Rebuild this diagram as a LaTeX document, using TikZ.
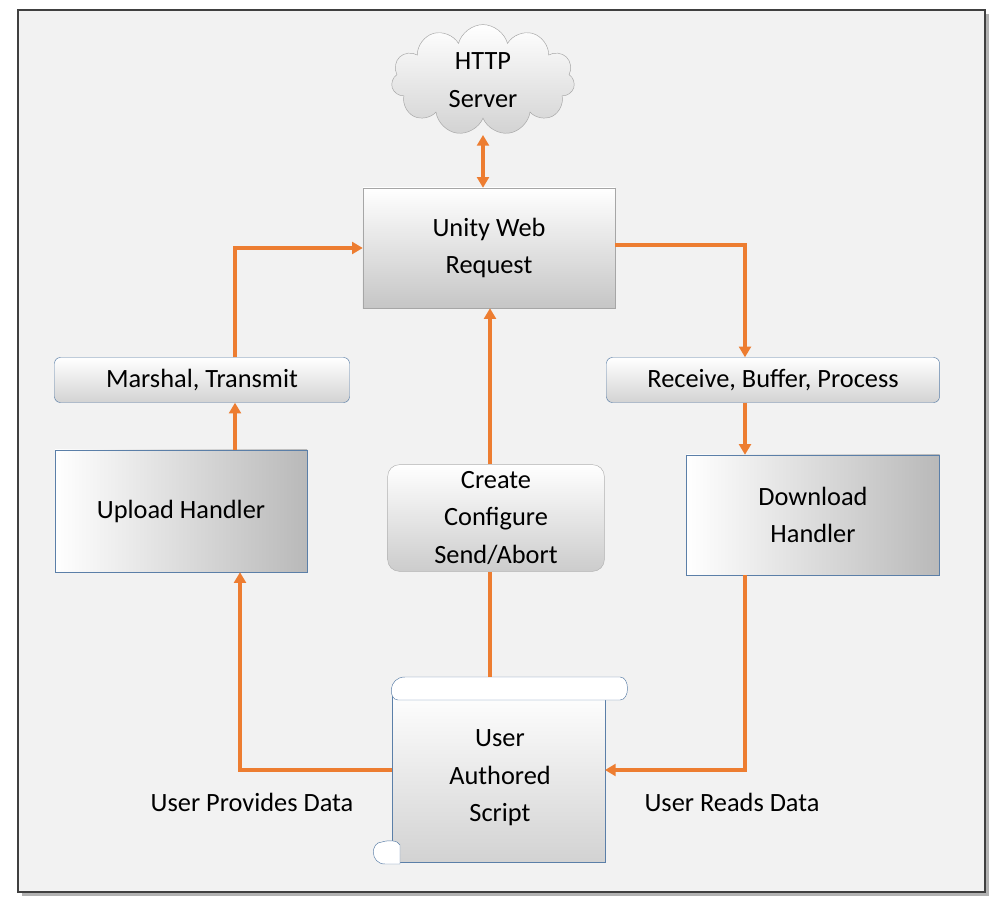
\documentclass[tikz,border=0pt]{standalone}
\usepackage{fontspec}
\setmainfont{Carlito}
\usetikzlibrary{shapes.symbols,arrows.meta,calc}
\definecolor{org}{HTML}{ED7D31}
\definecolor{bord}{HTML}{5B7FA8}
\begin{document}
\begin{tikzpicture}[x=0.03cm,y=-0.03cm,
  font=\fontsize{22.5}{32}\selectfont,
  conn/.style={org,line width=3.2pt},
  arr/.style={conn,-{Triangle[length=9pt,width=10pt]}},
  gbox/.style={draw=gray!70,top color=white,bottom color=gray!45,align=center,inner sep=0pt},
  rbox/.style={draw=bord,rounded corners=5pt,top color=white,bottom color=gray!35,align=center,inner sep=0pt}]
\useasboundingbox (0,0) rectangle (1000,900);
\fill[white] (0,0) rectangle (1000,900);
\fill[gray!60] (22,14) rectangle (989,896);
\draw[fill=black!5,draw=black!75,line width=1.5pt] (18,10) rectangle (985,892);
% nodes
\node[cloud,cloud puffs=11,aspect=2.2,draw=gray!70,top color=white,bottom color=gray!35,minimum width=5.5cm,minimum height=2.9cm,align=center,inner sep=0pt] (http) at (483,80) {HTTP\\Server};
\node[gbox,minimum width=7.56cm,minimum height=3.6cm] (uwr) at (489,248) {Unity Web\\Request};
\node[rbox,minimum width=8.85cm,minimum height=1.35cm] (mar) at (202,380) {Marshal, Transmit};
\node[rbox,minimum width=9.99cm,minimum height=1.35cm] (rec) at (773,380) {Receive, Buffer,\ Process};
\node[draw=bord,left color=white,right color=gray!55,minimum width=7.56cm,minimum height=3.66cm] (up) at (181,511) {Upload Handler};
\node[draw=bord,left color=white,right color=gray!55,minimum width=7.59cm,minimum height=3.6cm,align=center] (down) at (813,515) {Download\\Handler};
\node[draw=gray!60,rounded corners=10pt,top color=white,bottom color=gray!40,minimum width=6.5cm,minimum height=3.2cm,align=center,inner sep=0pt] (cre) at (496,518) {Create\\Configure\\Send/Abort};
% scroll
\draw[bord,top color=white,bottom color=gray!35] (392,690) -- (605,690) -- (605,862) -- (392,862) -- cycle;
\draw[bord,fill=white] (405,677) -- (620,677) .. controls (630,677) and (630,700) .. (620,700) -- (398,700) .. controls (388,700) and (388,677) .. (405,677) -- cycle;
\draw[bord,fill=white] (382,842) .. controls (370,842) and (370,864) .. (385,864) -- (400,864) -- (400,845) .. controls (398,840) and (388,840) .. (382,842);
\node[align=center] (scr) at (500,778) {User\\Authored\\Script};
\coordinate (scrtop) at (490,677);
\coordinate (scrl) at (392,770);
\coordinate (scrr) at (605,770);
% connectors
\draw[conn,{Triangle[length=9pt,width=10pt]}-{Triangle[length=9pt,width=10pt]}] (483,135) -- (uwr.north -| 483,0);
\draw[arr] (mar.north -| 235,0) -- (235,248) -- (uwr.west |- 0,248);
\draw[arr] (up.north -| 235,0) -- (mar.south -| 235,0);
\draw[arr] (uwr.east |- 0,245) -- (745,245) -- (rec.north -| 745,0);
\draw[arr] (rec.south -| 745,0) -- (down.north -| 745,0);
\draw[arr] (cre.north -| 490,0) -- (uwr.south -| 490,0);
\draw[conn] (scrtop) -- (cre.south -| 490,0);
\draw[arr] (scrl) -- (240,770) -- (up.south -| 240,0);
\draw[arr] (down.south -| 745,0) -- (745,770) -- (scrr);
\node (lp) at (252,802) {User Provides Data};
\node (lr) at (732,802) {User Reads Data};
\end{tikzpicture}
\end{document}
